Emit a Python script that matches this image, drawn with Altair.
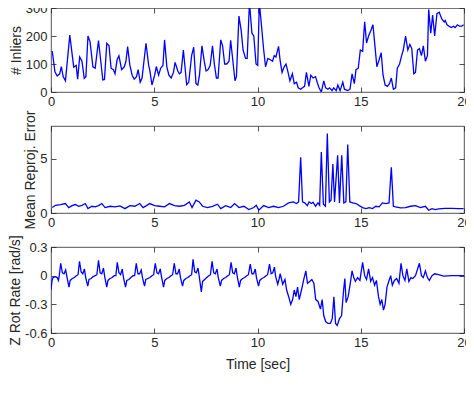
import altair as alt
import pandas as pd

# ---------- Panel 1: # Inliers ----------
t_inl = [0.06, 0.19, 0.30, 0.42, 0.50, 0.59, 0.70, 0.91, 1.10, 1.22, 1.29, 1.39, 1.50, 1.61, 1.69, 1.79,
         1.89, 2.03, 2.14, 2.30, 2.51, 2.59, 2.70, 2.81, 2.91, 3.02, 3.10, 3.20, 3.29, 3.42, 3.55, 3.63,
         3.71, 3.82, 3.93, 4.03, 4.14, 4.22, 4.32, 4.41, 4.60, 4.73, 4.78, 4.89, 5.02, 5.10, 5.21, 5.31,
         5.42, 5.50, 5.61, 5.71, 5.82, 5.93, 6.01, 6.14, 6.22, 6.30, 6.41, 6.57, 6.67, 6.81, 6.91, 7.02,
         7.11, 7.19, 7.31, 7.42, 7.51, 7.61, 7.71, 7.82, 7.91, 8.01, 8.09, 8.22, 8.31, 8.41, 8.51, 8.62,
         8.70, 8.91, 8.98, 9.10, 9.21, 9.30, 9.42, 9.50, 9.61, 9.73, 9.82, 9.93, 10.01, 10.09, 10.30, 10.39,
         10.50, 10.62, 10.73, 10.81, 10.89, 11.02, 11.10, 11.19, 11.29, 11.38, 11.48, 11.57, 11.69, 11.78,
         11.89, 11.97, 12.09, 12.18, 12.28, 12.37, 12.49, 12.58, 12.69, 12.81, 12.89, 12.98, 13.09, 13.21,
         13.30, 13.41, 13.49, 13.61, 13.69, 13.81, 13.89, 14.00, 14.13, 14.21, 14.37, 14.48, 14.58, 14.69,
         14.77, 14.88, 14.98, 15.09, 15.19, 15.28, 15.38, 15.49, 15.59, 15.68, 15.78, 15.89, 15.99, 16.08,
         16.18, 16.29, 16.39, 16.48, 16.58, 16.69, 16.77, 16.88, 16.98, 17.06, 17.17, 17.28, 17.38, 17.47,
         17.57, 17.65, 17.75, 17.84, 17.94, 18.03, 18.13, 18.23, 18.29, 18.39, 18.48, 18.58, 18.69, 18.80,
         18.93, 19.04, 19.09, 19.18, 19.28, 19.38, 19.49, 19.57, 19.68, 19.78, 19.89, 19.98]
inliers = [146, 72, 57, 65, 91, 55, 40, 203, 89, 95, 46, 125, 110, 49, 55, 200,
           180, 90, 85, 184, 43, 45, 174, 165, 85, 80, 65, 115, 129, 80, 90, 110,
           162, 95, 60, 46, 55, 80, 35, 50, 174, 95, 80, 25, 60, 91, 60, 85,
           95, 186, 90, 60, 50, 70, 106, 75, 65, 70, 150, 26, 35, 130, 160, 30,
           25, 60, 165, 110, 75, 80, 95, 165, 100, 50, 50, 186, 165, 100, 100, 110,
           185, 40, 55, 271, 220, 150, 120, 120, 320, 210, 200, 100, 95, 320, 150, 90,
           120, 115, 110, 130, 125, 163, 110, 70, 90, 100, 70, 40, 65, 30,
           35, 15, 10, 15, 20, 70, 20, 60, 50, 55, 35, 15, 0, 40,
           15, 10, 15, 5, 15, 5, 25, 5, 35, 10, 5, 10, 65, 30,
           80, 85, 150, 145, 251, 175, 200, 220, 240, 170, 90, 115, 140, 60,
           25, 20, 30, 50, 10, 15, 85, 100, 130, 150, 200, 150, 170, 155,
           65, 70, 150, 155, 130, 165, 110, 130, 295, 210, 275, 200, 280, 285,
           260, 250, 255, 240, 235, 230, 235, 230, 240, 235, 235, 240]

# ---------- Panel 2: Mean reprojection error ----------
t_err = [0.06, 0.22, 0.46, 0.70, 0.86, 1.02, 1.18, 1.34, 1.50, 1.66, 1.79, 1.98, 2.14, 2.30, 2.46, 2.62,
         2.86, 3.10, 3.34, 3.58, 3.82, 4.06, 4.30, 4.46, 4.62, 4.78, 5.02, 5.26, 5.50, 5.74, 5.98, 6.22,
         6.46, 6.70, 6.83, 7.02, 7.18, 7.34, 7.58, 7.82, 8.06, 8.22, 8.46, 8.70, 8.89, 9.10, 9.34, 9.58,
         9.82, 9.94, 10.06, 10.30, 10.54, 10.78, 11.02, 11.26, 11.50, 11.73, 11.89, 11.99, 12.09, 12.18,
         12.29, 12.41, 12.50, 12.61, 12.69, 12.81, 12.93, 13.01, 13.09, 13.19, 13.29, 13.38, 13.48, 13.56,
         13.65, 13.73, 13.88, 13.97, 14.08, 14.18, 14.28, 14.37, 14.47, 14.61, 14.77, 14.93, 15.09, 15.25,
         15.41, 15.57, 15.73, 15.89, 16.05, 16.21, 16.37, 16.48, 16.58, 16.69, 16.93, 17.17, 17.41, 17.65,
         17.89, 18.13, 18.29, 18.45, 18.61, 18.77, 19.09, 19.41, 19.73, 19.98]
errors = [0.50, 0.71, 0.78, 0.87, 0.50, 0.68, 0.78, 0.62, 0.71, 0.87, 0.40, 0.62, 0.56, 0.68, 0.87, 0.50,
          0.62, 0.56, 0.65, 0.40, 0.68, 0.62, 0.87, 0.50, 0.68, 0.87, 0.68, 0.62, 0.56, 0.87, 0.68, 0.62,
          0.71, 1.02, 0.50, 1.18, 1.02, 0.62, 0.50, 0.62, 0.81, 0.40, 0.68, 0.50, 0.87, 0.50, 0.62, 0.31,
          0.50, 0.71, 0.25, 0.68, 0.50, 0.62, 0.50, 0.62, 0.93, 1.02, 0.87, 1.02, 5.12, 1.02,
          0.93, 0.68, 1.02, 0.87, 0.99, 0.62, 0.93, 0.71, 5.60, 0.81, 0.62, 7.30, 1.02, 1.18,
          4.50, 1.02, 5.30, 0.93, 5.30, 0.93, 1.02, 6.30, 1.02, 0.93, 0.87, 0.68, 0.50, 0.40,
          0.50, 0.40, 0.62, 0.56, 0.93, 0.87, 0.93, 4.20, 0.62, 0.56, 0.47, 0.50, 0.62, 0.68,
          0.50, 0.62, 0.25, 0.40, 0.31, 0.37, 0.43, 0.43, 0.40, 0.40]

# ---------- Panel 3: Z rotation rate ----------
t_rot = [0.00, 0.05, 0.10, 0.20, 0.30, 0.36, 0.40,
         0.47, 0.55, 0.63, 0.71, 0.77, 0.87, 0.93, 1.03, 1.13, 1.23, 1.31,
         1.38, 1.46, 1.54, 1.62, 1.68, 1.78, 1.84, 1.94, 2.04, 2.14, 2.22,
         2.30, 2.38, 2.46, 2.54, 2.60, 2.70, 2.76, 2.86, 2.96, 3.06, 3.14,
         3.21, 3.29, 3.37, 3.45, 3.51, 3.61, 3.67, 3.77, 3.87, 3.97, 4.05,
         4.13, 4.21, 4.29, 4.37, 4.43, 4.53, 4.59, 4.69, 4.79, 4.89, 4.97,
         5.05, 5.13, 5.21, 5.29, 5.35, 5.45, 5.51, 5.61, 5.71, 5.81, 5.89,
         5.97, 6.05, 6.13, 6.21, 6.27, 6.37, 6.43, 6.53, 6.63, 6.73, 6.81,
         6.88, 6.96, 7.04, 7.12, 7.18, 7.28, 7.34, 7.44, 7.54, 7.64, 7.72,
         7.80, 7.88, 7.96, 8.04, 8.10, 8.20, 8.26, 8.36, 8.46, 8.56, 8.64,
         8.72, 8.80, 8.88, 8.96, 9.02, 9.12, 9.18, 9.28, 9.38, 9.48, 9.56,
         9.65, 9.73, 9.81, 9.89, 9.95, 10.05, 10.11, 10.21, 10.31, 10.41, 10.49,
         10.58, 10.66, 10.74, 10.82, 10.88, 10.98, 11.04,
         11.10, 11.22, 11.33, 11.41, 11.51, 11.61, 11.70, 11.78, 11.86, 11.94, 12.02, 12.13,
         12.23, 12.34, 12.42, 12.53, 12.63, 12.73, 12.82, 12.93, 13.05, 13.13, 13.21, 13.30,
         13.41, 13.53, 13.62, 13.70, 13.78, 13.86, 13.97, 14.07, 14.17, 14.23, 14.29, 14.39,
         14.48, 14.58, 14.66, 14.74, 14.85, 14.96, 15.09, 15.19, 15.28, 15.38, 15.48, 15.57,
         15.67, 15.76, 15.86, 15.94, 16.02, 16.10, 16.18, 16.27, 16.37, 16.45, 16.53, 16.63,
         16.74, 16.85, 16.95, 17.04, 17.14, 17.23, 17.33, 17.43, 17.52, 17.65, 17.84, 17.94,
         18.03, 18.13, 18.23, 18.32, 18.45, 18.58, 18.77, 19.01, 19.41, 20.00]
rot_rate = [-0.15, -0.05, -0.02, -0.01, -0.02, -0.05, 0.00,
            0.13, 0.03, 0.02, 0.06, -0.01, -0.12, -0.05, -0.03, -0.02, 0.00, 0.01,
            0.15, 0.04, 0.02, 0.07, -0.02, -0.11, -0.04, -0.03, -0.01, 0.00, 0.01,
            0.16, 0.03, 0.02, 0.08, -0.01, -0.12, -0.05, -0.03, -0.02, 0.00, 0.00,
            0.14, 0.03, 0.01, 0.07, -0.02, -0.12, -0.05, -0.04, -0.02, 0.00, 0.00,
            0.13, 0.02, 0.02, 0.06, -0.02, -0.11, -0.04, -0.03, -0.02, 0.00, 0.01,
            0.13, 0.03, 0.02, 0.07, -0.01, -0.12, -0.05, -0.03, -0.02, 0.00, 0.01,
            0.13, 0.02, 0.02, 0.07, -0.02, -0.11, -0.05, -0.03, -0.02, 0.00, 0.01,
            0.17, 0.04, 0.03, 0.08, -0.01, -0.17, -0.06, -0.04, -0.02, 0.00, 0.01,
            0.15, 0.03, 0.02, 0.07, -0.02, -0.11, -0.05, -0.03, -0.02, 0.00, 0.01,
            0.14, 0.03, 0.02, 0.08, -0.01, -0.12, -0.05, -0.03, -0.02, 0.00, 0.01,
            0.12, 0.02, 0.02, 0.07, -0.02, -0.11, -0.05, -0.03, -0.02, 0.00, 0.01,
            0.12, 0.02, 0.03, 0.09, -0.01, -0.09, -0.04,
            0.02, -0.09, -0.04, -0.15, -0.22, -0.30, -0.25, -0.15, -0.22, -0.12, -0.25, -0.15,
            -0.05, 0.05, -0.08, -0.06, -0.04, -0.08, -0.25, -0.27, -0.35, -0.25, -0.42, -0.48,
            -0.50, -0.50, -0.45, -0.22, -0.50, -0.52, -0.45, -0.42, -0.15, -0.03, -0.28, -0.22,
            -0.10, 0.05, -0.02, -0.06, -0.02, -0.05, 0.14, 0.00, -0.04, 0.07, -0.06, -0.02,
            -0.10, -0.05, -0.22, -0.30, -0.25, -0.36, -0.30, -0.12, -0.05, 0.00, -0.10, -0.05,
            -0.03, -0.08, 0.13, 0.00, -0.05, 0.07, -0.06, -0.02, -0.03, 0.00, 0.13, 0.00,
            -0.02, 0.05, -0.02, -0.05, 0.00, 0.02, 0.01, -0.005, 0.00, 0.00]

x_ticks = [0, 5, 10, 15, 20]
inl_ticks = [0, 100, 200, 300]
err_ticks = [0, 5]
rot_ticks = [-0.6, -0.3, 0, 0.3]

LINE = "#0000ff"
AX = "#262626"
FONT = "Liberation Sans"
W = 413


def panel(df, ydom, yticks, ytitle, h, xtitle=None):
    base = alt.Chart(df)
    x_bottom = alt.Axis(values=x_ticks, title=xtitle, grid=False, domain=False,
                        tickSize={"expr": "-5"}, labelPadding=8, labelFlush=False,
                        titlePadding=8)
    y_left = alt.Axis(values=yticks, title=ytitle, grid=False, domain=False,
                      tickSize={"expr": "-5"}, labelPadding=9, titlePadding=2,
                      labelExpr="'' + datum.value")
    x_top = alt.Axis(values=x_ticks, orient="top", labels=False, title=None, grid=False,
                     domain=False, tickSize={"expr": "-5"})
    y_right = alt.Axis(values=yticks, orient="right", labels=False, title=None, grid=False,
                       domain=False, tickSize={"expr": "-5"})
    xs = alt.Scale(domain=[0, 20], nice=False, zero=False)
    ys = alt.Scale(domain=ydom, nice=False, zero=False)
    line = base.mark_line(color=LINE, strokeWidth=1.3, clip=True).encode(
        x=alt.X("t:Q", scale=xs, axis=x_bottom),
        y=alt.Y("v:Q", scale=ys, axis=y_left),
    )
    ghost = base.mark_line(strokeOpacity=0, clip=True).encode(
        x=alt.X("t:Q", scale=xs, axis=x_top),
        y=alt.Y("v:Q", scale=ys, axis=y_right),
    )
    return alt.layer(line, ghost).resolve_axis(x="independent", y="independent").properties(
        width=W, height=h)


p1 = panel(pd.DataFrame({"t": t_inl, "v": inliers}), [0, 300], inl_ticks, "# Inliers", 84)
p2 = panel(pd.DataFrame({"t": t_err, "v": errors}), [0, 8], err_ticks, "Mean Reproj. Error", 87)
p3 = panel(pd.DataFrame({"t": t_rot, "v": rot_rate}), [-0.6, 0.3], rot_ticks,
           "Z Rot Rate [rad/s]", 86, xtitle="Time [sec]")

chart = alt.vconcat(p1, p2, p3, spacing=34, bounds="flush").configure_view(
    stroke=AX, strokeWidth=0.8
).configure_axis(
    labelFont=FONT, titleFont=FONT, labelFontSize=13, titleFontSize=14,
    labelColor=AX, titleColor=AX, tickColor=AX, titleFontWeight="normal",
    tickWidth=0.8,
).properties(
    padding={"top": -7, "left": 0, "right": -6, "bottom": 0},
    background="white",
)

chart.save("out.html", embed_options={"renderer": "svg", "actions": False})
